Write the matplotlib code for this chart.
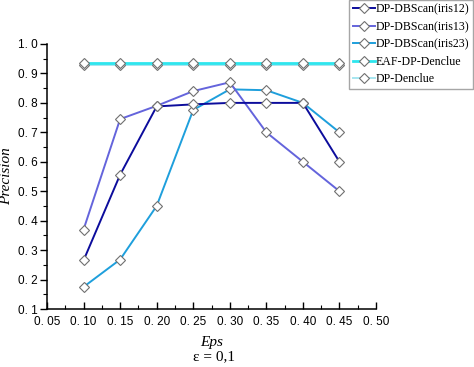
import matplotlib
matplotlib.use("Agg")
import matplotlib.pyplot as plt
from matplotlib.ticker import MultipleLocator, FixedLocator

eps = [0.10, 0.15, 0.20, 0.25, 0.30, 0.35, 0.40, 0.45]
iris12 = [0.265, 0.556, 0.788, 0.795, 0.80, 0.80, 0.80, 0.60]
iris13 = [0.370, 0.745, 0.790, 0.840, 0.870, 0.700, 0.600, 0.500]
iris23 = [0.175, 0.268, 0.450, 0.776, 0.846, 0.843, 0.800, 0.700]
eaf_dp = [0.935] * 8
dp_denclue = [0.927] * 8

labels = ["DP-DBScan(iris12)", "DP-DBScan(iris13)", "DP-DBScan(iris23)",
          "EAF-DP-Denclue", "DP-Denclue"]
colors = ["#0c0c9c", "#6464dc", "#1e9fdc", "#2ee6ee", "#a6e6f0"]
series = [iris12, iris13, iris23, eaf_dp, dp_denclue]

xticks = [0.05, 0.10, 0.15, 0.20, 0.25, 0.30, 0.35, 0.40, 0.45, 0.50]
yticks = [0.1, 0.2, 0.3, 0.4, 0.5, 0.6, 0.7, 0.8, 0.9, 1.0]

fig = plt.figure(figsize=(4.74, 3.67), dpi=100)
ax = fig.add_axes([47 / 474, 1 - 309 / 367, 329 / 474, 265 / 367])

order = [4, 3, 2, 1, 0]
handles = {}
for i in order:
    h, = ax.plot(eps, series[i], color=colors[i], lw=1.4 if i != 3 else 2.0,
                 marker="D", ms=5.5, mfc="white", mec="#707070", mew=0.8,
                 label=labels[i])
    handles[i] = h

ax.set_xlim(0.05, 0.50)
ax.set_ylim(0.1, 1.0)
ax.xaxis.set_major_locator(FixedLocator(xticks))
ax.yaxis.set_major_locator(FixedLocator(yticks))
ax.xaxis.set_minor_locator(MultipleLocator(0.025))
ax.yaxis.set_minor_locator(MultipleLocator(0.05))
# tick labels in the source use a blank after the decimal point
ax.set_xticklabels([f"{v:.2f}".replace(".", ". ") for v in xticks],
                   fontfamily="Liberation Sans", fontsize=8.5)
ax.set_yticklabels([f"{v:.1f}".replace(".", ". ") for v in yticks],
                   fontfamily="Liberation Sans", fontsize=8.5)
ax.tick_params(axis="x", which="major", direction="in", length=5, width=1, pad=5)
ax.tick_params(axis="x", which="minor", direction="in", length=3, width=0.8)
ax.tick_params(axis="y", which="major", direction="out", length=5, width=1, pad=2)
ax.tick_params(axis="y", which="minor", direction="out", length=3, width=0.8)

for s in ["top", "right"]:
    ax.spines[s].set_visible(False)
for s in ["left", "bottom"]:
    ax.spines[s].set_linewidth(1.1)

ax.set_ylabel("Precision", fontfamily="Liberation Serif", fontstyle="italic",
              fontsize=11, labelpad=3)
ax.set_xlabel("Eps", fontfamily="Liberation Serif", fontstyle="italic",
              fontsize=11, labelpad=6)
fig.text(214 / 474, 1 - 357 / 367, "ε = 0,1", fontfamily="Liberation Serif",
         fontsize=11, ha="center", va="center")

leg = fig.legend([handles[i] for i in range(5)], labels,
                 loc="upper left", bbox_to_anchor=(349 / 474, 1.0),
                 prop={"family": "Liberation Serif", "size": 8.6},
                 frameon=True, fancybox=False, handlelength=1.9,
                 handletextpad=0.05, borderpad=0.3, labelspacing=0.45,
                 borderaxespad=0)
leg.get_frame().set_edgecolor("#909090")
leg.get_frame().set_linewidth(1.0)

fig.savefig("out.png", dpi=100)
